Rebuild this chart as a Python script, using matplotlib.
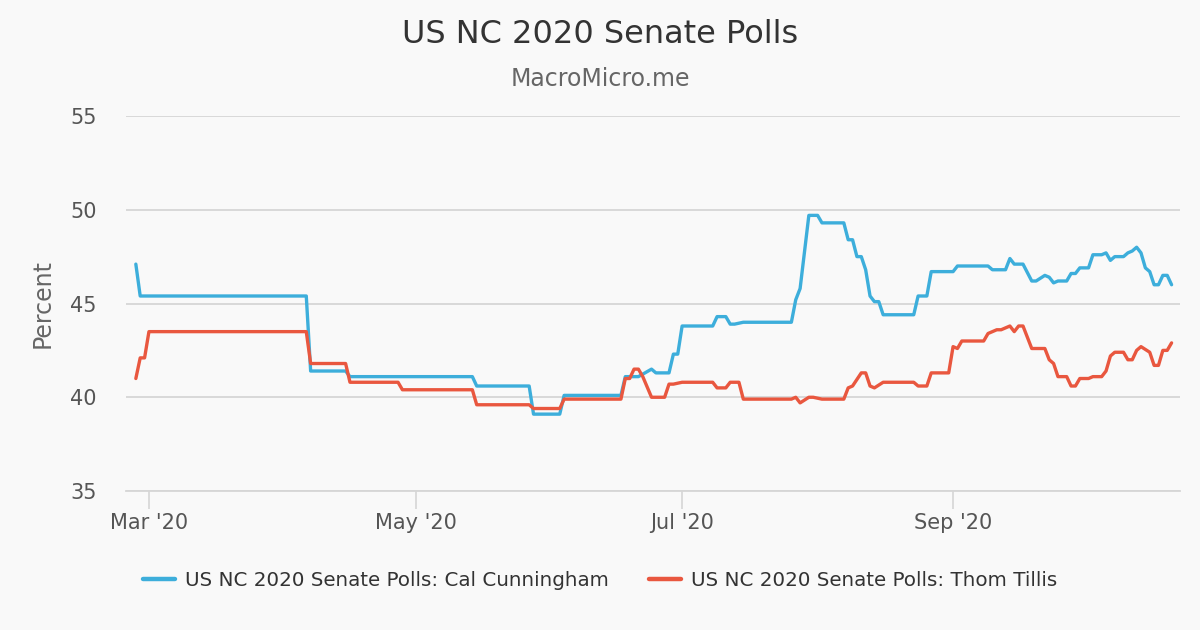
import pandas as pd
import matplotlib
matplotlib.use("Agg")
import matplotlib.pyplot as plt
import matplotlib.dates as mdates

# Cal Cunningham (blue)
cal_dates = ["02-27", "02-28", "04-06", "04-07", "04-15", "04-16", "05-14", "05-15",
             "05-27", "05-28", "06-03", "06-04", "06-17", "06-18", "06-21", "06-24",
             "06-25", "06-28", "06-29", "06-30", "07-01", "07-08", "07-09", "07-11",
             "07-12", "07-13", "07-15", "07-26", "07-27", "07-28", "07-30", "08-01",
             "08-02", "08-07", "08-08", "08-09", "08-10", "08-11", "08-12", "08-13",
             "08-14", "08-15", "08-16", "08-23", "08-24", "08-26", "08-27", "09-01",
             "09-02", "09-09", "09-10", "09-13", "09-14", "09-15", "09-17", "09-19",
             "09-20", "09-22", "09-23", "09-24", "09-25", "09-27", "09-28", "09-29",
             "09-30", "10-02", "10-03", "10-05", "10-06", "10-07", "10-08", "10-10",
             "10-11", "10-12", "10-13", "10-14", "10-15", "10-16", "10-17", "10-18",
             "10-19", "10-20", "10-21"]
cal_values = [47.1, 45.4, 45.4, 41.4, 41.4, 41.1, 41.1, 40.6,
              40.6, 39.1, 39.1, 40.1, 40.1, 41.1, 41.1, 41.5,
              41.3, 41.3, 42.3, 42.3, 43.8, 43.8, 44.3, 44.3,
              43.9, 43.9, 44.0, 44.0, 45.2, 45.8, 49.7, 49.7,
              49.3, 49.3, 48.4, 48.4, 47.5, 47.5, 46.8, 45.4,
              45.1, 45.1, 44.4, 44.4, 45.4, 45.4, 46.7, 46.7,
              47.0, 47.0, 46.8, 46.8, 47.4, 47.1, 47.1, 46.2,
              46.2, 46.5, 46.4, 46.1, 46.2, 46.2, 46.6, 46.6,
              46.9, 46.9, 47.6, 47.6, 47.7, 47.3, 47.5, 47.5,
              47.7, 47.8, 48.0, 47.7, 46.9, 46.7, 46.0, 46.0,
              46.5, 46.5, 46.0]

# Thom Tillis (red)
thom_dates = ["02-27", "02-28", "02-29", "03-01", "04-06", "04-07", "04-15", "04-16",
              "04-27", "04-28", "05-14", "05-15", "05-27", "05-28", "06-03", "06-04",
              "06-17", "06-18", "06-19", "06-20", "06-21", "06-22", "06-24", "06-27",
              "06-28", "06-29", "07-01", "07-08", "07-09", "07-11", "07-12", "07-14",
              "07-15", "07-26", "07-27", "07-28", "07-30", "07-31", "08-02", "08-07",
              "08-08", "08-09", "08-11", "08-12", "08-13", "08-14", "08-16", "08-23",
              "08-24", "08-26", "08-27", "08-31", "09-01", "09-02", "09-03", "09-08",
              "09-09", "09-10", "09-11", "09-12", "09-14", "09-15", "09-16", "09-17",
              "09-19", "09-22", "09-23", "09-24", "09-25", "09-27", "09-28", "09-29",
              "09-30", "10-02", "10-03", "10-05", "10-06", "10-07", "10-08", "10-10",
              "10-11", "10-12", "10-13", "10-14", "10-16", "10-17", "10-18", "10-19",
              "10-20", "10-21"]
thom_values = [41.0, 42.1, 42.1, 43.5, 43.5, 41.8, 41.8, 40.8,
               40.8, 40.4, 40.4, 39.6, 39.6, 39.4, 39.4, 39.9,
               39.9, 41.0, 41.0, 41.5, 41.5, 41.1, 40.0, 40.0,
               40.7, 40.7, 40.8, 40.8, 40.5, 40.5, 40.8, 40.8,
               39.9, 39.9, 40.0, 39.7, 40.0, 40.0, 39.9, 39.9,
               40.5, 40.6, 41.3, 41.3, 40.6, 40.5, 40.8, 40.8,
               40.6, 40.6, 41.3, 41.3, 42.7, 42.6, 43.0, 43.0,
               43.4, 43.5, 43.6, 43.6, 43.8, 43.5, 43.8, 43.8,
               42.6, 42.6, 42.0, 41.8, 41.1, 41.1, 40.6, 40.6,
               41.0, 41.0, 41.1, 41.1, 41.4, 42.2, 42.4, 42.4,
               42.0, 42.0, 42.5, 42.7, 42.4, 41.7, 41.7, 42.5,
               42.5, 42.9]

series_names = ["US NC 2020 Senate Polls: Cal Cunningham",
                "US NC 2020 Senate Polls: Thom Tillis"]
y_ticks = [35, 40, 45, 50, 55]

cal_x = pd.to_datetime(["2020-" + d for d in cal_dates])
thom_x = pd.to_datetime(["2020-" + d for d in thom_dates])

bg = "#f9f9f9"
fig = plt.figure(figsize=(12, 6.3), dpi=100, facecolor=bg)
ax = fig.add_axes([0.105, 0.2206, 0.878, 0.5953], facecolor=bg)

ax.plot(cal_x, cal_values, color="#3daedb", lw=2.4, label=series_names[0],
        solid_joinstyle="round", solid_capstyle="round")
ax.plot(thom_x, thom_values, color="#e9573f", lw=2.4, label=series_names[1],
        solid_joinstyle="round", solid_capstyle="round")

ax.set_ylim(35, 55)
ax.set_yticks(y_ticks)
ax.set_xlim(pd.Timestamp("2020-02-24 18:00"), pd.Timestamp("2020-10-22 20:00"))
ax.xaxis.set_major_locator(mdates.MonthLocator(bymonth=[3, 5, 7, 9]))
ax.xaxis.set_major_formatter(mdates.DateFormatter("%b '%y"))

ax.grid(axis="y", color="#d6d6d6", lw=1.3)
ax.set_axisbelow(True)
for s in ["top", "right", "left"]:
    ax.spines[s].set_visible(False)
ax.spines["bottom"].set_color("#d6d6d6")
ax.spines["bottom"].set_linewidth(1.3)

ax.tick_params(axis="y", length=0, pad=21, labelsize=15, labelcolor="#555555")
ax.tick_params(axis="x", length=13, width=1.2, color="#d6d6d6", pad=3,
               labelsize=15, labelcolor="#555555")

ax.set_ylabel("Percent", fontsize=17, color="#666666", labelpad=11)

fig.text(0.5, 0.945, "US NC 2020 Senate Polls", ha="center", va="center",
         fontsize=23, color="#333333")
fig.text(0.5, 0.875, "MacroMicro.me", ha="center", va="center",
         fontsize=17, color="#666666")

leg = fig.legend(loc="center", bbox_to_anchor=(0.5, 0.078), ncol=2, frameon=False,
                 fontsize=14.3, handlelength=1.6, handletextpad=0.5,
                 columnspacing=2.05, labelcolor="#333333")
for line in leg.get_lines():
    line.set_linewidth(3.2)

fig.savefig("out.png", dpi=100, facecolor=bg)
